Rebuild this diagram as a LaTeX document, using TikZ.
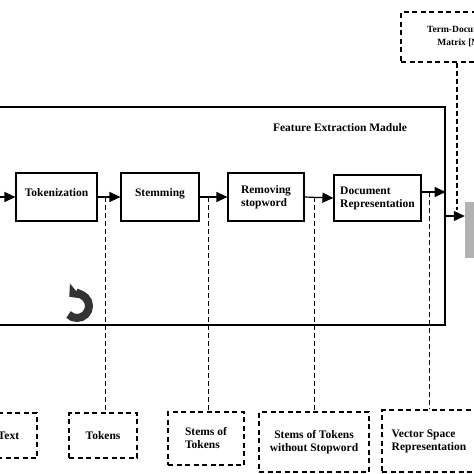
\documentclass[tikz,border=0pt]{standalone}
\usepackage{fontspec}
\setmainfont{Liberation Serif}
\usetikzlibrary{arrows.meta}

\begin{document}
\begin{tikzpicture}[x=1pt, y=-1pt,
    every node/.style={font=\bfseries\fontsize{11.5}{13}\selectfont},
    stage/.style={draw, line width=1.2pt, inner sep=0pt, align=left},
    result/.style={draw, line width=1.5pt, dash pattern=on 5pt off 3.5pt, inner sep=0pt, align=left},
    flow/.style={line width=1.2pt, -{Triangle[length=11pt, width=10pt]}},
    link/.style={line width=1.5pt, dash pattern=on 5pt off 3pt}]
  \useasboundingbox (0,0) rectangle (474,474);

  \node (module) [draw, line width=1.4pt, inner sep=0pt, minimum width=455pt, minimum height=218pt] at (217.5,216) {};
  \node (title) at (340,128) {Feature Extraction Madule};

  \node (tok) [stage, text depth=8pt, minimum width=81pt, minimum height=48pt] at (56.5,197) {Tokenization};
  \node (stem) [stage, text depth=8pt, minimum width=78pt, minimum height=48pt] at (160,197) {Stemming};
  \node (stop) [stage, minimum width=76pt, minimum height=48pt] at (266,197) {Removing\\stopword};
  \node (doc) [stage, minimum width=87pt, minimum height=46pt] at (377.5,198) {Document\\Representation};
  \node (gray) [fill=black!30, inner sep=0pt, minimum width=30pt, minimum height=56pt] at (480,230) {};

  \node (matrix) [result, align=center, minimum width=119pt, minimum height=50pt,
    font=\bfseries\fontsize{9.5}{13}\selectfont] at (460.5,37) {Term-Document\\Matrix [M]};
  \node (text) [result, minimum width=57pt, minimum height=45pt] at (8.5,435.5) {Text};
  \node (tokens) [result, minimum width=68pt, minimum height=45pt] at (103,435.5) {Tokens};
  \node (stems) [result, minimum width=76pt, minimum height=53pt] at (206,438.5) {Stems of\\Tokens};
  \node (clean) [result, align=center, minimum width=110pt, minimum height=60pt] at (314,442) {Stems of Tokens\\without Stopword};
  \node (vsr) [result, minimum width=94pt, minimum height=62pt] at (429,441) {Vector Space\\Representation};

  \coordinate (in) at (-5,197);
  \coordinate (t1) at ([xshift=8pt]tok.east);
  \coordinate (t2) at ([xshift=9pt]stem.east);
  \coordinate (t3) at ([xshift=10pt]stop.east);
  \coordinate (t4) at ([xshift=8pt, yshift=6pt]doc.east);
  \coordinate (m1) at (457,210);
  \coordinate (icon) at (77,306);

  \draw[flow] (in) -- (tok.west);
  \draw[flow] (tok.east) -- (stem.west);
  \draw[flow] (stem.east) -- (stop.west);
  \draw[flow] (stop.east) -- (doc.west);
  \draw[flow] ([yshift=6pt]doc.east) -- (module.east |- t4);
  \draw[flow] (module.east) -- (module.east -| gray.west);

  \draw[link] (t1) -- (t1 |- tokens.north);
  \draw[link] (t2) -- (t2 |- stems.north);
  \draw[link] (t3) -- (t3 |- clean.north);
  \draw[link] (t4) -- (t4 |- vsr.north);
  \draw[link] (m1 |- matrix.south) -- (m1);

  \draw[line width=8pt, black!80, -{Triangle[length=9pt, width=19pt]}]
    (icon) ++(135:12) arc[start angle=135, end angle=-130, radius=12];
\end{tikzpicture}
\end{document}
